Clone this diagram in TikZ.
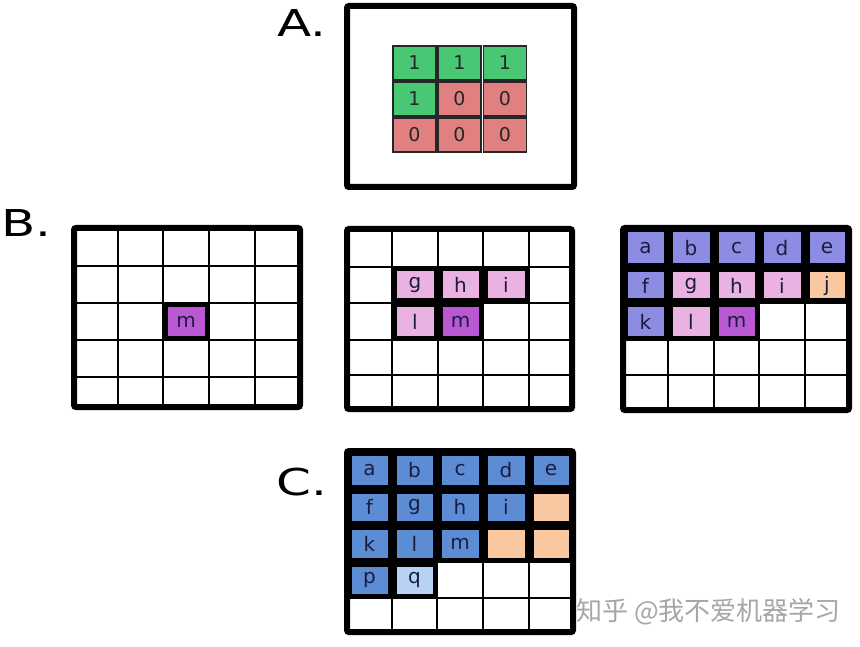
\documentclass[tikz,border=0pt]{standalone}
\usepackage{fontspec}
\setmainfont{DejaVu Sans}
\newfontfamily\cjk{Noto Sans CJK SC}
\definecolor{agreen}{RGB}{72,199,116}
\definecolor{ared}{RGB}{224,128,128}
\definecolor{bpink}{RGB}{234,178,224}
\definecolor{bpurple}{RGB}{186,88,212}
\definecolor{bblue}{RGB}{140,140,226}
\definecolor{peach}{RGB}{249,200,160}
\definecolor{cblue}{RGB}{92,140,212}
\definecolor{qblue}{RGB}{182,210,245}
\definecolor{txt}{RGB}{28,28,64}
\newcommand\hcell[7]{%
  \fill[black] (#2,#3) rectangle (#4,#5);
  \node[cellnode, fill=#6, minimum width={#4-#2-9}, minimum height={#5-#3-9}] (#1) at ({(#2+#4)/2},{(#3+#5)/2}) {#7};
}
\newcommand\gridlines[8]{%
  \foreach \gx in {#5} {\draw[gline] (\gx,#2) -- (\gx,#4);}
  \foreach \gy in {#6} {\draw[gline] (#1,\gy) -- (#3,\gy);}
}
\begin{document}
\begin{tikzpicture}[x=1pt,y=-1pt,
  frame/.style={line width=6pt, rounded corners=2pt},
  gline/.style={line width=1.8pt},
  cellnode/.style={inner sep=0pt, text=txt, font=\fontsize{20}{20}\selectfont},
  acell/.style={draw=black!85, line width=1.3pt, inner sep=0pt, minimum width=43pt, minimum height=34pt, text=black!85, font=\fontsize{19}{19}\selectfont},
  biglabel/.style={anchor=base west, inner sep=0pt, font=\fontsize{37}{37}\selectfont}]
\useasboundingbox[fill=white] (0,0) rectangle (860,647);

% ---------- A ----------
\node[biglabel] (labA) at (277,37) {\scalebox{1.35}[1]{A.}};
\node[acell, fill=agreen] (a11) at (414.5,63) {1};
\node[acell, fill=agreen] (a12) at (459.5,63) {1};
\node[acell, fill=agreen] (a13) at (505,63) {1};
\node[acell, fill=agreen] (a21) at (414.5,99) {1};
\node[acell, fill=ared] (a22) at (459.5,99) {0};
\node[acell, fill=ared] (a23) at (505,99) {0};
\node[acell, fill=ared] (a31) at (414.5,135) {0};
\node[acell, fill=ared] (a32) at (459.5,135) {0};
\node[acell, fill=ared] (a33) at (505,135) {0};
\draw[frame] (347,6) rectangle (574,187);

% ---------- B ----------
\node[biglabel] (labB) at (1,237) {\scalebox{1.35}[1]{B.}};
% left grid
\gridlines{74}{228}{300}{407}{118,163,209,255}{266,303,340,377}{}{}
\hcell{bl-m}{163}{303}{209}{340}{bpurple}{m}
\draw[frame] (74,228) rectangle (300,407);
% middle grid
\gridlines{347}{229}{572}{409}{392,438,483,529}{267,303,340,375}{}{}
\hcell{bm-g}{392}{267}{438}{303}{bpink}{g}
\hcell{bm-h}{438}{267}{483}{303}{bpink}{h}
\hcell{bm-i}{483}{267}{529}{303}{bpink}{i}
\hcell{bm-l}{392}{303}{438}{340}{bpink}{l}
\hcell{bm-m}{438}{303}{483}{340}{bpurple}{m}
\draw[frame] (347,229) rectangle (572,409);
% right grid
\gridlines{623}{228}{849}{410}{668,714,759,805}{268,303,340,375}{}{}
\hcell{br-a}{623}{228}{668}{268}{bblue}{a}
\hcell{br-b}{668}{228}{714}{268}{bblue}{b}
\hcell{br-c}{714}{228}{759}{268}{bblue}{c}
\hcell{br-d}{759}{228}{805}{268}{bblue}{d}
\hcell{br-e}{805}{228}{849}{268}{bblue}{e}
\hcell{br-f}{623}{268}{668}{303}{bblue}{f}
\hcell{br-g}{668}{268}{714}{303}{bpink}{g}
\hcell{br-h}{714}{268}{759}{303}{bpink}{h}
\hcell{br-i}{759}{268}{805}{303}{bpink}{i}
\hcell{br-j}{805}{268}{849}{303}{peach}{j}
\hcell{br-k}{623}{303}{668}{340}{bblue}{k}
\hcell{br-l}{668}{303}{714}{340}{bpink}{l}
\hcell{br-m}{714}{303}{759}{340}{bpurple}{m}
\draw[frame] (623,228) rectangle (849,410);

% ---------- C ----------
\node[biglabel] (labC) at (276,495) {\scalebox{1.35}[1]{C.}};
\gridlines{347}{451}{573}{632}{392,437,483,529}{489,525,562,598}{}{}
\hcell{c-a}{347}{451}{392}{489}{cblue}{a}
\hcell{c-b}{392}{451}{437}{489}{cblue}{b}
\hcell{c-c}{437}{451}{483}{489}{cblue}{c}
\hcell{c-d}{483}{451}{529}{489}{cblue}{d}
\hcell{c-e}{529}{451}{573}{489}{cblue}{e}
\hcell{c-f}{347}{489}{392}{525}{cblue}{f}
\hcell{c-g}{392}{489}{437}{525}{cblue}{g}
\hcell{c-h}{437}{489}{483}{525}{cblue}{h}
\hcell{c-i}{483}{489}{529}{525}{cblue}{i}
\hcell{c-j}{529}{489}{573}{525}{peach}{}
\hcell{c-k}{347}{525}{392}{562}{cblue}{k}
\hcell{c-l}{392}{525}{437}{562}{cblue}{l}
\hcell{c-m}{437}{525}{483}{562}{cblue}{m}
\hcell{c-n}{483}{525}{529}{562}{peach}{}
\hcell{c-o}{529}{525}{573}{562}{peach}{}
\hcell{c-p}{347}{562}{392}{598}{cblue}{p}
\hcell{c-q}{392}{562}{437}{598}{qblue}{q}
\draw[frame] (347,451) rectangle (573,632);

% watermark
\node[anchor=base west, inner sep=0pt, text=black!35, font=\cjk\fontsize{26}{26}\selectfont] (wm) at (576,620) {知乎 @我不爱机器学习};
\end{tikzpicture}
\end{document}
